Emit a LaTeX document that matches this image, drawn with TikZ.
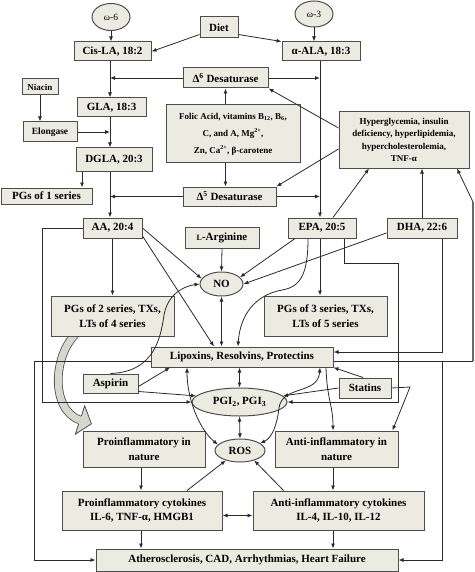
\documentclass[tikz,border=0pt]{standalone}
\usepackage{fontspec}
\setmainfont{Liberation Serif}
\usetikzlibrary{shapes.geometric,arrows.meta}
\definecolor{boxfill}{HTML}{ECEBE1}
\definecolor{boxline}{HTML}{4D4D4D}
\definecolor{linec}{HTML}{2A2A2A}
\definecolor{blockfill}{HTML}{D6D8CE}
\begin{document}
\begin{tikzpicture}[x=1pt,y=-1pt,
 bx/.style={draw=boxline, fill=boxfill, line width=1pt, inner sep=0pt, align=center, font=\bfseries\fontsize{11}{14.5}\selectfont},
 el/.style={bx, ellipse},
 con/.style={draw=linec, line width=0.8pt},
 ar/.style={con, -{Latex[length=5pt,width=4pt]}},
 dar/.style={con, {Latex[length=5pt,width=4pt]}-{Latex[length=5pt,width=4pt]}},
]
\useasboundingbox (0,0) rectangle (474,572);

% block arrow (drawn first, under the nodes)
\draw[draw=boxline, line width=0.8pt, double=blockfill, double distance=7pt] (80,330) .. controls (52,352) and (50,410) .. (80,420);
\fill[blockfill] (84.7,405.8) -- (91.4,423.8) -- (75.3,434.2) -- cycle;
\draw[boxline, line width=0.8pt, line join=miter] (81.4,415.9) -- (84.7,405.8) -- (91.4,423.8) -- (75.3,434.2) -- (78.6,424.1);

% nodes
\node[el, minimum width=38pt, minimum height=27pt, font=\fontsize{9.5}{11}\selectfont] (omega6) at (111,17) {ω-6};
\node[el, minimum width=38pt, minimum height=26pt, font=\fontsize{9.5}{11}\selectfont] (omega3) at (314,14) {ω-3};
\node[bx, minimum width=38pt, minimum height=21pt] (diet) at (219,27.5) {Diet};
\node[bx, minimum width=77pt, minimum height=19pt] (cisla) at (112.5,51.5) {Cis-LA, 18:2};
\node[bx, minimum width=78pt, minimum height=19pt] (ala) at (321,51.5) {α-ALA, 18:3};
\node[bx, minimum width=85pt, minimum height=20pt] (d6) at (225.5,78) {Δ\textsuperscript{6} Desaturase};
\node[bx, minimum width=134pt, minimum height=58pt, font=\bfseries\fontsize{9}{17}\selectfont] (folic) at (233,134) {Folic Acid, vitamins B\textsubscript{12}, B\textsubscript{6},\\C, and A, Mg\textsuperscript{2+},\\Zn, Ca\textsuperscript{2+}, β-carotene};
\node[bx, minimum width=36pt, minimum height=16pt, font=\bfseries\fontsize{9}{11}\selectfont] (niacin) at (40,87) {Niacin};
\node[bx, minimum width=54pt, minimum height=20pt, font=\bfseries\fontsize{9.5}{11}\selectfont] (elong) at (50,132) {Elongase};
\node[bx, minimum width=69pt, minimum height=19pt] (gla) at (111.5,107.5) {GLA, 18:3};
\node[bx, minimum width=76pt, minimum height=23pt] (dgla) at (114,159.5) {DGLA, 20:3};
\node[bx, minimum width=91pt, minimum height=16pt] (pgs1) at (46.5,196) {PGs of 1 series};
\node[bx, minimum width=93pt, minimum height=19pt] (d5) at (229.5,196.5) {Δ\textsuperscript{5} Desaturase};
\node[bx, minimum width=130pt, minimum height=56pt, font=\bfseries\fontsize{9}{12.3}\selectfont] (hyper) at (404,140) {Hyperglycemia, insulin\\deficiency, hyperlipidemia,\\hypercholesterolemia,\\TNF-α};
\node[bx, minimum width=59pt, minimum height=20pt] (aa) at (112.5,228) {AA, 20:4};
\node[bx, minimum width=68pt, minimum height=20pt] (epa) at (322,228) {EPA, 20:5};
\node[bx, minimum width=70pt, minimum height=20pt] (dha) at (422,228) {DHA, 22:6};
\node[bx, minimum width=74pt, minimum height=21pt] (larg) at (222,237.5) {{\fontsize{8}{10}\selectfont L}-Arginine};
\node[el, minimum width=43pt, minimum height=24pt] (no) at (221.5,284) {NO};
\node[bx, minimum width=123pt, minimum height=40pt] (pgs2) at (112.5,316) {PGs of 2 series, TXs,\\LTs of 4 series};
\node[bx, minimum width=123pt, minimum height=40pt] (pgs3) at (325.5,316) {PGs of 3 series, TXs,\\LTs of 5 series};
\node[bx, minimum width=182pt, minimum height=20pt] (lipox) at (242,357) {Lipoxins, Resolvins, Protectins};
\node[bx, minimum width=55pt, minimum height=19pt] (aspirin) at (110.5,383.5) {Aspirin};
\node[bx, minimum width=52pt, minimum height=20pt] (statins) at (365,388) {Statins};
\node[el, minimum width=95pt, minimum height=28pt] (pgi) at (239.5,402) {PGI\textsubscript{2}, PGI\textsubscript{3}};
\node[el, minimum width=50pt, minimum height=23pt] (ros) at (240,450.5) {ROS};
\node[bx, minimum width=122pt, minimum height=36pt] (proinf) at (144,449) {Proinflammatory in\\nature};
\node[bx, minimum width=123pt, minimum height=36pt] (antiinf) at (336.5,449) {Anti-inflammatory in\\nature};
\node[bx, minimum width=160pt, minimum height=39pt] (procyt) at (142,510.5) {Proinflammatory cytokines\\IL-6, TNF-α, HMGB1};
\node[bx, minimum width=171pt, minimum height=39pt] (anticyt) at (338.5,510.5) {Anti-inflammatory cytokines\\IL-4, IL-10, IL-12};
\node[bx, minimum width=302pt, minimum height=22pt] (athero) at (247,560) {Atherosclerosis, CAD, Arrhythmias, Heart Failure};

% helper coordinates
\coordinate (tl) at (110,0);
\coordinate (tr) at (320,0);
\coordinate (a1) at (42,228);
\coordinate (e1) at (398,263);
\coordinate (l1) at (34,361);
\coordinate (l2) at (34,560);
\coordinate (r1) at (473,361);
\coordinate (r2) at (473,202);
\coordinate (d1) at (442,361);
\coordinate (d2) at (442,560);
\coordinate (s1) at (410,387);

% top section
\draw[ar] (omega6.south) -- (omega6.south |- cisla.north);
\draw[ar] (omega3.south) -- (omega3.south |- ala.north);
\draw[ar] ([yshift=4pt]diet.south west) -- (cisla.east);
\draw[ar] ([yshift=4pt]diet.south east) -- (ala.north west);
\draw[ar] (cisla.south -| tl) -- (gla.north -| tl);
\draw[ar] (gla.south -| tl) -- (dgla.north -| tl);
\draw[ar] (dgla.south -| tl) -- (aa.north -| tl);
\draw[ar] (ala.south -| tr) -- (epa.north -| tr);
\draw[ar] (d6.west) -- (d6.west -| tl);
\draw[ar] (d6.east) -- (d6.east -| tr);
\draw[ar] (d5.west) -- (d5.west -| tl);
\draw[ar] (d5.east) -- (d5.east -| tr);
\draw[ar] (elong.east) -- (elong.east -| tl);
\draw[ar] (niacin.south) -- (niacin.south |- elong.north);
\draw[ar] (folic.north -| d6.south) -- (d6.south);
\draw[ar] (folic.south -| d6.south) -- (d6.south |- d5.north);
\draw[ar] ([xshift=-32pt]dgla.south) -- ([xshift=-32pt]dgla.south |- pgs1.north);
\draw[ar] ([yshift=12pt]hyper.west) -- (d6.south east);
\draw[ar] ([yshift=-9pt]hyper.west) -- (d5.north east);
\draw[ar] ([xshift=11pt]epa.north) -- ([xshift=-35pt]hyper.south);
\draw[ar] (dha.north) -- (dha.north |- hyper.south);
\draw[con] ([yshift=-4pt]lipox.east) -- (r1);
\draw[draw=linec!70, line width=1.2pt] (r1) -- (r2);
\draw[ar] (r2) -- ([xshift=53pt]hyper.south);

% middle section
\draw[ar] (aa.west) -- (a1) |- (pgi.west);
\draw[ar] (aa.east) -- (no.165);
\draw[ar] ([yshift=-8pt]aa.east) -- ([xshift=-28pt]lipox.north);
\draw[ar] (aa.south) -- (pgs2.north);
\draw[ar] (larg.south) -- (no.north);
\draw[ar] ([xshift=-27pt]epa.south) -- (no.20);
\draw[ar] ([yshift=-5pt]dha.west) -- (no.east);
\draw[ar] (epa.south -| tr) -- (pgs3.north -| tr);
\draw[ar] ([xshift=-14pt]epa.south) .. controls (308,275) and (300,287) .. (282,290) .. controls (255,295) and (240,315) .. ([xshift=-4pt]lipox.north);
\draw[ar] ([xshift=22pt]epa.south) |- (e1) |- (pgi.east);
\draw[ar] ([xshift=20pt]dha.south) |- ([yshift=5pt]lipox.east);
\draw[dar] (no.south) -- (no.south |- lipox.north);
\draw[ar] (aspirin.north) .. controls (150,372) and (160,345) .. (164,315) .. controls (168,293) and (185,286) .. (no.west);

% lower section
\draw[ar] ([yshift=-4pt]lipox.west) -- (l1) -- (l2) -- (athero.west);
\draw[ar] (d1) -- (d2) -- (athero.east);
\draw[ar] ([yshift=-3pt]aspirin.east) -- ([xshift=-72pt]lipox.south);
\draw[ar] ([yshift=-8pt]aspirin.east) -- (pgi.172);
\draw[dar] (pgi.north) -- (pgi.north |- lipox.south);
\draw[dar] (pgi.south) -- (ros.north);
\draw[dar] ([xshift=-55pt]lipox.south) .. controls (187,400) and (200,430) .. (ros.165);
\draw[dar] ([xshift=78pt]lipox.south) .. controls (318,395) and (282,385) .. (279,408) .. controls (277,425) and (272,438) .. (ros.20);
\draw[ar] ([xshift=-2pt]statins.north) -- (lipox.south east);
\draw[ar] (statins.west) -- (pgi.8);
\draw[ar] (statins.east) -- (s1) -- ([xshift=56pt]antiinf.north);
\draw[ar] ([xshift=84pt]lipox.south) .. controls (327,400) and (333,405) .. ([xshift=-3.5pt]antiinf.north);
\draw[ar] ([xshift=-3pt]proinf.south) -- ([xshift=-3pt]proinf.south |- procyt.north);
\draw[ar] ([xshift=-3.5pt]antiinf.south) -- ([xshift=-3.5pt]antiinf.south |- anticyt.north);
\draw[ar] ([xshift=45pt]procyt.north) -- (ros.215);
\draw[ar] ([xshift=-55pt]anticyt.north) -- (ros.-35);
\draw[dar] ([yshift=-5pt]procyt.east) -- ([yshift=-5pt]anticyt.west);
\draw[ar] ([xshift=-1pt]procyt.south) -- ([xshift=-1pt]procyt.south |- athero.north);
\draw[ar] ([xshift=-5.5pt]anticyt.south) -- ([xshift=-5.5pt]anticyt.south |- athero.north);
\end{tikzpicture}
\end{document}
